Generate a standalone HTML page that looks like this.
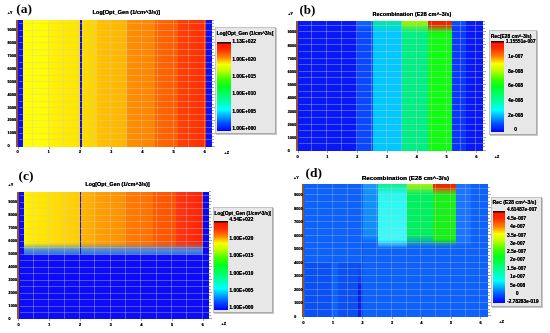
<!DOCTYPE html>
<html><head><meta charset="utf-8"><style>
html,body{margin:0;padding:0;background:#fff;}
body{width:550px;height:333px;position:relative;overflow:hidden;}
#r{position:absolute;left:0;top:0;width:550px;height:333px;filter:blur(0.45px);}
#r div,#r span{position:absolute;}
</style></head><body><div id="r">
<div style="left:16px;top:20px;width:2px;height:127px;background:#94532a;"></div>
<div style="left:18px;top:20px;width:5px;height:127px;background:#1010f4;"></div>
<div style="left:23px;top:20px;width:25px;height:127px;background:linear-gradient(to right,#ffff06,#fffc00);"></div>
<div style="left:48px;top:20px;width:32px;height:127px;background:linear-gradient(to right,#fff400,#ffe400);"></div>
<div style="left:80px;top:20px;width:2px;height:127px;background:#1414d8;"></div>
<div style="left:82px;top:20px;width:15px;height:127px;background:linear-gradient(to right,#ffdc00,#ffd200);"></div>
<div style="left:97px;top:20px;width:30px;height:127px;background:linear-gradient(to right,#ffc200,#ffb400);"></div>
<div style="left:127px;top:20px;width:28px;height:127px;background:linear-gradient(to right,#ff9000,#ff8400);"></div>
<div style="left:155px;top:20px;width:23px;height:127px;background:linear-gradient(to right,#ff6800,#ff5c00);"></div>
<div style="left:178px;top:20px;width:28px;height:127px;background:linear-gradient(to right,#ff4204,#ff2c04);"></div>
<div style="left:206px;top:20px;width:6px;height:127px;background:#1010f0;"></div>
<div style="left:32px;top:20px;width:1px;height:127px;background:rgba(205,205,205,0.36);"></div>
<div style="left:48px;top:20px;width:1px;height:127px;background:rgba(205,205,205,0.36);"></div>
<div style="left:63px;top:20px;width:1px;height:127px;background:rgba(205,205,205,0.36);"></div>
<div style="left:79px;top:20px;width:1px;height:127px;background:rgba(205,205,205,0.36);"></div>
<div style="left:95px;top:20px;width:1px;height:127px;background:rgba(205,205,205,0.36);"></div>
<div style="left:110px;top:20px;width:1px;height:127px;background:rgba(205,205,205,0.36);"></div>
<div style="left:126px;top:20px;width:1px;height:127px;background:rgba(205,205,205,0.36);"></div>
<div style="left:141px;top:20px;width:1px;height:127px;background:rgba(205,205,205,0.36);"></div>
<div style="left:157px;top:20px;width:1px;height:127px;background:rgba(205,205,205,0.36);"></div>
<div style="left:173px;top:20px;width:1px;height:127px;background:rgba(205,205,205,0.36);"></div>
<div style="left:188px;top:20px;width:1px;height:127px;background:rgba(205,205,205,0.36);"></div>
<div style="left:204px;top:20px;width:1px;height:127px;background:rgba(205,205,205,0.36);"></div>
<div style="left:19px;top:139px;width:193px;height:1px;background:rgba(205,205,205,0.36);"></div>
<div style="left:19px;top:133px;width:193px;height:1px;background:rgba(205,205,205,0.36);"></div>
<div style="left:19px;top:127px;width:193px;height:1px;background:rgba(205,205,205,0.36);"></div>
<div style="left:19px;top:120px;width:193px;height:1px;background:rgba(205,205,205,0.36);"></div>
<div style="left:19px;top:114px;width:193px;height:1px;background:rgba(205,205,205,0.36);"></div>
<div style="left:19px;top:107px;width:193px;height:1px;background:rgba(205,205,205,0.36);"></div>
<div style="left:19px;top:101px;width:193px;height:1px;background:rgba(205,205,205,0.36);"></div>
<div style="left:19px;top:94px;width:193px;height:1px;background:rgba(205,205,205,0.36);"></div>
<div style="left:19px;top:88px;width:193px;height:1px;background:rgba(205,205,205,0.36);"></div>
<div style="left:19px;top:81px;width:193px;height:1px;background:rgba(205,205,205,0.36);"></div>
<div style="left:19px;top:75px;width:193px;height:1px;background:rgba(205,205,205,0.36);"></div>
<div style="left:19px;top:68px;width:193px;height:1px;background:rgba(205,205,205,0.36);"></div>
<div style="left:19px;top:62px;width:193px;height:1px;background:rgba(205,205,205,0.36);"></div>
<div style="left:19px;top:55px;width:193px;height:1px;background:rgba(205,205,205,0.36);"></div>
<div style="left:19px;top:49px;width:193px;height:1px;background:rgba(205,205,205,0.36);"></div>
<div style="left:19px;top:42px;width:193px;height:1px;background:rgba(205,205,205,0.36);"></div>
<div style="left:19px;top:36px;width:193px;height:1px;background:rgba(205,205,205,0.36);"></div>
<div style="left:19px;top:30px;width:193px;height:1px;background:rgba(205,205,205,0.36);"></div>
<div style="left:19px;top:23px;width:193px;height:1px;background:rgba(205,205,205,0.36);"></div>
<div style="left:212px;top:146px;width:3px;height:1px;background:rgba(80,80,80,0.5);"></div>
<div style="left:212px;top:142px;width:2px;height:1px;background:rgba(80,80,80,0.5);"></div>
<div style="left:212px;top:139px;width:2px;height:1px;background:rgba(80,80,80,0.5);"></div>
<div style="left:212px;top:136px;width:2px;height:1px;background:rgba(80,80,80,0.5);"></div>
<div style="left:212px;top:133px;width:3px;height:1px;background:rgba(80,80,80,0.5);"></div>
<div style="left:212px;top:129px;width:2px;height:1px;background:rgba(80,80,80,0.5);"></div>
<div style="left:212px;top:126px;width:2px;height:1px;background:rgba(80,80,80,0.5);"></div>
<div style="left:212px;top:123px;width:2px;height:1px;background:rgba(80,80,80,0.5);"></div>
<div style="left:212px;top:120px;width:3px;height:1px;background:rgba(80,80,80,0.5);"></div>
<div style="left:212px;top:117px;width:2px;height:1px;background:rgba(80,80,80,0.5);"></div>
<div style="left:212px;top:113px;width:2px;height:1px;background:rgba(80,80,80,0.5);"></div>
<div style="left:212px;top:110px;width:2px;height:1px;background:rgba(80,80,80,0.5);"></div>
<div style="left:212px;top:107px;width:3px;height:1px;background:rgba(80,80,80,0.5);"></div>
<div style="left:212px;top:104px;width:2px;height:1px;background:rgba(80,80,80,0.5);"></div>
<div style="left:212px;top:100px;width:2px;height:1px;background:rgba(80,80,80,0.5);"></div>
<div style="left:212px;top:97px;width:2px;height:1px;background:rgba(80,80,80,0.5);"></div>
<div style="left:212px;top:94px;width:3px;height:1px;background:rgba(80,80,80,0.5);"></div>
<div style="left:212px;top:91px;width:2px;height:1px;background:rgba(80,80,80,0.5);"></div>
<div style="left:212px;top:87px;width:2px;height:1px;background:rgba(80,80,80,0.5);"></div>
<div style="left:212px;top:84px;width:2px;height:1px;background:rgba(80,80,80,0.5);"></div>
<div style="left:212px;top:81px;width:3px;height:1px;background:rgba(80,80,80,0.5);"></div>
<div style="left:212px;top:78px;width:2px;height:1px;background:rgba(80,80,80,0.5);"></div>
<div style="left:212px;top:74px;width:2px;height:1px;background:rgba(80,80,80,0.5);"></div>
<div style="left:212px;top:71px;width:2px;height:1px;background:rgba(80,80,80,0.5);"></div>
<div style="left:212px;top:68px;width:3px;height:1px;background:rgba(80,80,80,0.5);"></div>
<div style="left:212px;top:65px;width:2px;height:1px;background:rgba(80,80,80,0.5);"></div>
<div style="left:212px;top:62px;width:2px;height:1px;background:rgba(80,80,80,0.5);"></div>
<div style="left:212px;top:58px;width:2px;height:1px;background:rgba(80,80,80,0.5);"></div>
<div style="left:212px;top:55px;width:3px;height:1px;background:rgba(80,80,80,0.5);"></div>
<div style="left:212px;top:52px;width:2px;height:1px;background:rgba(80,80,80,0.5);"></div>
<div style="left:212px;top:49px;width:2px;height:1px;background:rgba(80,80,80,0.5);"></div>
<div style="left:212px;top:45px;width:2px;height:1px;background:rgba(80,80,80,0.5);"></div>
<div style="left:212px;top:42px;width:3px;height:1px;background:rgba(80,80,80,0.5);"></div>
<div style="left:212px;top:39px;width:2px;height:1px;background:rgba(80,80,80,0.5);"></div>
<div style="left:212px;top:36px;width:2px;height:1px;background:rgba(80,80,80,0.5);"></div>
<div style="left:212px;top:32px;width:2px;height:1px;background:rgba(80,80,80,0.5);"></div>
<div style="left:212px;top:29px;width:3px;height:1px;background:rgba(80,80,80,0.5);"></div>
<div style="left:212px;top:26px;width:2px;height:1px;background:rgba(80,80,80,0.5);"></div>
<div style="left:212px;top:23px;width:2px;height:1px;background:rgba(80,80,80,0.5);"></div>
<div style="left:212px;top:20px;width:2px;height:1px;background:rgba(80,80,80,0.5);"></div>
<div style="left:18px;top:147px;width:1px;height:2px;background:rgba(80,80,80,0.5);"></div>
<div style="left:49px;top:147px;width:1px;height:2px;background:rgba(80,80,80,0.5);"></div>
<div style="left:80px;top:147px;width:1px;height:2px;background:rgba(80,80,80,0.5);"></div>
<div style="left:111px;top:147px;width:1px;height:2px;background:rgba(80,80,80,0.5);"></div>
<div style="left:142px;top:147px;width:1px;height:2px;background:rgba(80,80,80,0.5);"></div>
<div style="left:174px;top:147px;width:1px;height:2px;background:rgba(80,80,80,0.5);"></div>
<div style="left:205px;top:147px;width:1px;height:2px;background:rgba(80,80,80,0.5);"></div>
<span style="top:144px;font:bold 3.9px/3.9px 'Liberation Sans', Arial, sans-serif;color:#000;white-space:nowrap;left:7.40px;text-shadow:0.2px 0 0 #000;">0</span>
<span style="top:131px;font:bold 3.9px/3.9px 'Liberation Sans', Arial, sans-serif;color:#000;white-space:nowrap;left:7.40px;text-shadow:0.2px 0 0 #000;">1000</span>
<span style="top:118px;font:bold 3.9px/3.9px 'Liberation Sans', Arial, sans-serif;color:#000;white-space:nowrap;left:7.40px;text-shadow:0.2px 0 0 #000;">2000</span>
<span style="top:106px;font:bold 3.9px/3.9px 'Liberation Sans', Arial, sans-serif;color:#000;white-space:nowrap;left:7.40px;text-shadow:0.2px 0 0 #000;">3000</span>
<span style="top:93px;font:bold 3.9px/3.9px 'Liberation Sans', Arial, sans-serif;color:#000;white-space:nowrap;left:7.40px;text-shadow:0.2px 0 0 #000;">4000</span>
<span style="top:80px;font:bold 3.9px/3.9px 'Liberation Sans', Arial, sans-serif;color:#000;white-space:nowrap;left:7.40px;text-shadow:0.2px 0 0 #000;">5000</span>
<span style="top:67px;font:bold 3.9px/3.9px 'Liberation Sans', Arial, sans-serif;color:#000;white-space:nowrap;left:7.40px;text-shadow:0.2px 0 0 #000;">6000</span>
<span style="top:54px;font:bold 3.9px/3.9px 'Liberation Sans', Arial, sans-serif;color:#000;white-space:nowrap;left:7.40px;text-shadow:0.2px 0 0 #000;">7000</span>
<span style="top:41px;font:bold 3.9px/3.9px 'Liberation Sans', Arial, sans-serif;color:#000;white-space:nowrap;left:7.40px;text-shadow:0.2px 0 0 #000;">8000</span>
<span style="top:28px;font:bold 3.9px/3.9px 'Liberation Sans', Arial, sans-serif;color:#000;white-space:nowrap;left:7.40px;text-shadow:0.2px 0 0 #000;">9000</span>
<span style="top:150px;font:bold 3.9px/3.9px 'Liberation Sans', Arial, sans-serif;color:#000;white-space:nowrap;left:17.50px;transform:translateX(-50%);text-shadow:0.2px 0 0 #000;">0</span>
<span style="top:150px;font:bold 3.9px/3.9px 'Liberation Sans', Arial, sans-serif;color:#000;white-space:nowrap;left:48.70px;transform:translateX(-50%);text-shadow:0.2px 0 0 #000;">1</span>
<span style="top:150px;font:bold 3.9px/3.9px 'Liberation Sans', Arial, sans-serif;color:#000;white-space:nowrap;left:79.90px;transform:translateX(-50%);text-shadow:0.2px 0 0 #000;">2</span>
<span style="top:150px;font:bold 3.9px/3.9px 'Liberation Sans', Arial, sans-serif;color:#000;white-space:nowrap;left:111.10px;transform:translateX(-50%);text-shadow:0.2px 0 0 #000;">3</span>
<span style="top:150px;font:bold 3.9px/3.9px 'Liberation Sans', Arial, sans-serif;color:#000;white-space:nowrap;left:142.30px;transform:translateX(-50%);text-shadow:0.2px 0 0 #000;">4</span>
<span style="top:150px;font:bold 3.9px/3.9px 'Liberation Sans', Arial, sans-serif;color:#000;white-space:nowrap;left:173.50px;transform:translateX(-50%);text-shadow:0.2px 0 0 #000;">5</span>
<span style="top:150px;font:bold 3.9px/3.9px 'Liberation Sans', Arial, sans-serif;color:#000;white-space:nowrap;left:204.70px;transform:translateX(-50%);text-shadow:0.2px 0 0 #000;">6</span>
<span style="top:151px;font:bold 3.9px/3.9px 'Liberation Sans', Arial, sans-serif;color:#000;white-space:nowrap;left:226.70px;transform:translateX(-50%);text-shadow:0.2px 0 0 #000;">+Z</span>
<span style="top:11px;font:bold 3.9px/3.9px 'Liberation Sans', Arial, sans-serif;color:#000;white-space:nowrap;left:10.00px;transform:translateX(-50%);text-shadow:0.2px 0 0 #000;">+Y</span>
<span style="top:2px;font:bold 13.5px/13.5px 'Liberation Serif', 'Times New Roman', serif;color:#000;white-space:nowrap;left:16.20px;">(a)</span>
<span style="top:10px;font:bold 5.7px/5.7px 'Liberation Sans', Arial, sans-serif;color:#000;white-space:nowrap;letter-spacing:-0.01px;left:92.40px;text-shadow:0.12px 0 0 #000;">Log[Opt_Gen (1/cm^3/s)]</span>
<div style="left:215px;top:27px;width:59px;height:105px;background:#e7e7e7;border:1px solid #a9a9a9;border-top-color:#c4c4c4;border-left-color:#c4c4c4;box-shadow:1px 1px 0 #c8c8c8;overflow:hidden"></div>
<div style="left:217px;top:42px;width:14px;height:89px;background:linear-gradient(to bottom,#ff1000 0%,#ff2800 8%,#ff8000 17%,#ffff00 25%,#c0ff00 32%,#40ff00 42%,#00ff20 50%,#00ff90 64%,#00ffff 76%,#00a0ff 84%,#0050ff 91%,#0000ff 100%);"></div>
<div style="left:217px;top:42px;width:14px;height:2px;background:linear-gradient(to bottom,#200604 0%,#401008 50%,#c01808 100%);"></div>
<div style="left:216px;top:28px;width:58px;height:12px;overflow:hidden">
<span style="top:4px;font:bold 4.9px/4.9px 'Liberation Sans', Arial, sans-serif;color:#000;white-space:nowrap;left:0.60px;text-shadow:0.2px 0 0 #000;">Log[Opt_Gen (1/cm^3/s)]</span>
</div>
<span style="top:40px;font:bold 4.85px/4.85px 'Liberation Sans', Arial, sans-serif;color:#000;white-space:nowrap;left:232.30px;text-shadow:0.2px 0 0 #000;">1.13E+022</span>
<span style="top:58px;font:bold 4.85px/4.85px 'Liberation Sans', Arial, sans-serif;color:#000;white-space:nowrap;left:232.30px;text-shadow:0.2px 0 0 #000;">1.00E+020</span>
<span style="top:75px;font:bold 4.85px/4.85px 'Liberation Sans', Arial, sans-serif;color:#000;white-space:nowrap;left:232.30px;text-shadow:0.2px 0 0 #000;">1.00E+015</span>
<span style="top:92px;font:bold 4.85px/4.85px 'Liberation Sans', Arial, sans-serif;color:#000;white-space:nowrap;left:232.30px;text-shadow:0.2px 0 0 #000;">1.00E+010</span>
<span style="top:110px;font:bold 4.85px/4.85px 'Liberation Sans', Arial, sans-serif;color:#000;white-space:nowrap;left:232.30px;text-shadow:0.2px 0 0 #000;">1.00E+005</span>
<span style="top:127px;font:bold 4.85px/4.85px 'Liberation Sans', Arial, sans-serif;color:#000;white-space:nowrap;left:232.30px;text-shadow:0.2px 0 0 #000;">1.00E+000</span>
<div style="left:296px;top:21px;width:2px;height:130px;background:#94532a;"></div>
<div style="left:298px;top:21px;width:59px;height:130px;background:#0818f6;"></div>
<div style="left:357px;top:21px;width:16px;height:130px;background:linear-gradient(to bottom,#0c64ff 0px,#0c60ff 5px,#0a48ff 10px,#0a48ff 100%);"></div>
<div style="left:373px;top:21px;width:29px;height:130px;background:linear-gradient(to bottom,#00e8a8 0px,#00e4b8 4px,#00d4e8 8px,#00c8ff 11px,#00c8ff 100%);"></div>
<div style="left:402px;top:21px;width:26px;height:130px;background:linear-gradient(to bottom,#a0f400 0px,#88f410 3px,#40f048 7px,#10f078 10px,#00ee84 12px,#00ee84 100%);"></div>
<div style="left:428px;top:21px;width:24px;height:130px;background:linear-gradient(to bottom,#f02000 0px,#ec2800 3px,#c05008 5.5px,#909010 7.5px,#40d010 9.5px,#18f010 11.5px,#10fc10 13px,#10fc10 100%);"></div>
<div style="left:452px;top:21px;width:14px;height:130px;background:linear-gradient(to bottom,#0c50ff 0px,#0a3cff 8px,#0a34ff 100%);"></div>
<div style="left:466px;top:21px;width:17px;height:130px;background:#0818f6;"></div>
<div style="left:311px;top:21px;width:1px;height:130px;background:rgba(205,205,205,0.36);"></div>
<div style="left:326px;top:21px;width:1px;height:130px;background:rgba(205,205,205,0.36);"></div>
<div style="left:341px;top:21px;width:1px;height:130px;background:rgba(205,205,205,0.36);"></div>
<div style="left:356px;top:21px;width:1px;height:130px;background:rgba(205,205,205,0.36);"></div>
<div style="left:371px;top:21px;width:1px;height:130px;background:rgba(205,205,205,0.36);"></div>
<div style="left:386px;top:21px;width:1px;height:130px;background:rgba(205,205,205,0.36);"></div>
<div style="left:401px;top:21px;width:1px;height:130px;background:rgba(205,205,205,0.36);"></div>
<div style="left:416px;top:21px;width:1px;height:130px;background:rgba(205,205,205,0.36);"></div>
<div style="left:431px;top:21px;width:1px;height:130px;background:rgba(205,205,205,0.36);"></div>
<div style="left:446px;top:21px;width:1px;height:130px;background:rgba(205,205,205,0.36);"></div>
<div style="left:460px;top:21px;width:1px;height:130px;background:rgba(205,205,205,0.36);"></div>
<div style="left:475px;top:21px;width:1px;height:130px;background:rgba(205,205,205,0.36);"></div>
<div style="left:299px;top:143px;width:184px;height:1px;background:rgba(205,205,205,0.36);"></div>
<div style="left:299px;top:137px;width:184px;height:1px;background:rgba(205,205,205,0.36);"></div>
<div style="left:299px;top:130px;width:184px;height:1px;background:rgba(205,205,205,0.36);"></div>
<div style="left:299px;top:124px;width:184px;height:1px;background:rgba(205,205,205,0.36);"></div>
<div style="left:299px;top:117px;width:184px;height:1px;background:rgba(205,205,205,0.36);"></div>
<div style="left:299px;top:110px;width:184px;height:1px;background:rgba(205,205,205,0.36);"></div>
<div style="left:299px;top:104px;width:184px;height:1px;background:rgba(205,205,205,0.36);"></div>
<div style="left:299px;top:97px;width:184px;height:1px;background:rgba(205,205,205,0.36);"></div>
<div style="left:299px;top:91px;width:184px;height:1px;background:rgba(205,205,205,0.36);"></div>
<div style="left:299px;top:84px;width:184px;height:1px;background:rgba(205,205,205,0.36);"></div>
<div style="left:299px;top:77px;width:184px;height:1px;background:rgba(205,205,205,0.36);"></div>
<div style="left:299px;top:71px;width:184px;height:1px;background:rgba(205,205,205,0.36);"></div>
<div style="left:299px;top:64px;width:184px;height:1px;background:rgba(205,205,205,0.36);"></div>
<div style="left:299px;top:58px;width:184px;height:1px;background:rgba(205,205,205,0.36);"></div>
<div style="left:299px;top:51px;width:184px;height:1px;background:rgba(205,205,205,0.36);"></div>
<div style="left:299px;top:44px;width:184px;height:1px;background:rgba(205,205,205,0.36);"></div>
<div style="left:299px;top:38px;width:184px;height:1px;background:rgba(205,205,205,0.36);"></div>
<div style="left:299px;top:31px;width:184px;height:1px;background:rgba(205,205,205,0.36);"></div>
<div style="left:299px;top:25px;width:184px;height:1px;background:rgba(205,205,205,0.36);"></div>
<div style="left:483px;top:150px;width:3px;height:1px;background:rgba(80,80,80,0.5);"></div>
<div style="left:483px;top:146px;width:2px;height:1px;background:rgba(80,80,80,0.5);"></div>
<div style="left:483px;top:143px;width:2px;height:1px;background:rgba(80,80,80,0.5);"></div>
<div style="left:483px;top:140px;width:2px;height:1px;background:rgba(80,80,80,0.5);"></div>
<div style="left:483px;top:137px;width:3px;height:1px;background:rgba(80,80,80,0.5);"></div>
<div style="left:483px;top:133px;width:2px;height:1px;background:rgba(80,80,80,0.5);"></div>
<div style="left:483px;top:130px;width:2px;height:1px;background:rgba(80,80,80,0.5);"></div>
<div style="left:483px;top:127px;width:2px;height:1px;background:rgba(80,80,80,0.5);"></div>
<div style="left:483px;top:123px;width:3px;height:1px;background:rgba(80,80,80,0.5);"></div>
<div style="left:483px;top:120px;width:2px;height:1px;background:rgba(80,80,80,0.5);"></div>
<div style="left:483px;top:117px;width:2px;height:1px;background:rgba(80,80,80,0.5);"></div>
<div style="left:483px;top:113px;width:2px;height:1px;background:rgba(80,80,80,0.5);"></div>
<div style="left:483px;top:110px;width:3px;height:1px;background:rgba(80,80,80,0.5);"></div>
<div style="left:483px;top:107px;width:2px;height:1px;background:rgba(80,80,80,0.5);"></div>
<div style="left:483px;top:104px;width:2px;height:1px;background:rgba(80,80,80,0.5);"></div>
<div style="left:483px;top:100px;width:2px;height:1px;background:rgba(80,80,80,0.5);"></div>
<div style="left:483px;top:97px;width:3px;height:1px;background:rgba(80,80,80,0.5);"></div>
<div style="left:483px;top:94px;width:2px;height:1px;background:rgba(80,80,80,0.5);"></div>
<div style="left:483px;top:90px;width:2px;height:1px;background:rgba(80,80,80,0.5);"></div>
<div style="left:483px;top:87px;width:2px;height:1px;background:rgba(80,80,80,0.5);"></div>
<div style="left:483px;top:84px;width:3px;height:1px;background:rgba(80,80,80,0.5);"></div>
<div style="left:483px;top:80px;width:2px;height:1px;background:rgba(80,80,80,0.5);"></div>
<div style="left:483px;top:77px;width:2px;height:1px;background:rgba(80,80,80,0.5);"></div>
<div style="left:483px;top:74px;width:2px;height:1px;background:rgba(80,80,80,0.5);"></div>
<div style="left:483px;top:71px;width:3px;height:1px;background:rgba(80,80,80,0.5);"></div>
<div style="left:483px;top:67px;width:2px;height:1px;background:rgba(80,80,80,0.5);"></div>
<div style="left:483px;top:64px;width:2px;height:1px;background:rgba(80,80,80,0.5);"></div>
<div style="left:483px;top:61px;width:2px;height:1px;background:rgba(80,80,80,0.5);"></div>
<div style="left:483px;top:57px;width:3px;height:1px;background:rgba(80,80,80,0.5);"></div>
<div style="left:483px;top:54px;width:2px;height:1px;background:rgba(80,80,80,0.5);"></div>
<div style="left:483px;top:51px;width:2px;height:1px;background:rgba(80,80,80,0.5);"></div>
<div style="left:483px;top:47px;width:2px;height:1px;background:rgba(80,80,80,0.5);"></div>
<div style="left:483px;top:44px;width:3px;height:1px;background:rgba(80,80,80,0.5);"></div>
<div style="left:483px;top:41px;width:2px;height:1px;background:rgba(80,80,80,0.5);"></div>
<div style="left:483px;top:38px;width:2px;height:1px;background:rgba(80,80,80,0.5);"></div>
<div style="left:483px;top:34px;width:2px;height:1px;background:rgba(80,80,80,0.5);"></div>
<div style="left:483px;top:31px;width:3px;height:1px;background:rgba(80,80,80,0.5);"></div>
<div style="left:483px;top:28px;width:2px;height:1px;background:rgba(80,80,80,0.5);"></div>
<div style="left:483px;top:24px;width:2px;height:1px;background:rgba(80,80,80,0.5);"></div>
<div style="left:483px;top:21px;width:2px;height:1px;background:rgba(80,80,80,0.5);"></div>
<div style="left:298px;top:151px;width:1px;height:2px;background:rgba(80,80,80,0.5);"></div>
<div style="left:327px;top:151px;width:1px;height:2px;background:rgba(80,80,80,0.5);"></div>
<div style="left:357px;top:151px;width:1px;height:2px;background:rgba(80,80,80,0.5);"></div>
<div style="left:387px;top:151px;width:1px;height:2px;background:rgba(80,80,80,0.5);"></div>
<div style="left:417px;top:151px;width:1px;height:2px;background:rgba(80,80,80,0.5);"></div>
<div style="left:446px;top:151px;width:1px;height:2px;background:rgba(80,80,80,0.5);"></div>
<div style="left:476px;top:151px;width:1px;height:2px;background:rgba(80,80,80,0.5);"></div>
<span style="top:149px;font:bold 3.9px/3.9px 'Liberation Sans', Arial, sans-serif;color:#000;white-space:nowrap;left:287.50px;text-shadow:0.2px 0 0 #000;">0</span>
<span style="top:136px;font:bold 3.9px/3.9px 'Liberation Sans', Arial, sans-serif;color:#000;white-space:nowrap;left:287.50px;text-shadow:0.2px 0 0 #000;">1000</span>
<span style="top:123px;font:bold 3.9px/3.9px 'Liberation Sans', Arial, sans-serif;color:#000;white-space:nowrap;left:287.50px;text-shadow:0.2px 0 0 #000;">2000</span>
<span style="top:110px;font:bold 3.9px/3.9px 'Liberation Sans', Arial, sans-serif;color:#000;white-space:nowrap;left:287.50px;text-shadow:0.2px 0 0 #000;">3000</span>
<span style="top:96px;font:bold 3.9px/3.9px 'Liberation Sans', Arial, sans-serif;color:#000;white-space:nowrap;left:287.50px;text-shadow:0.2px 0 0 #000;">4000</span>
<span style="top:83px;font:bold 3.9px/3.9px 'Liberation Sans', Arial, sans-serif;color:#000;white-space:nowrap;left:287.50px;text-shadow:0.2px 0 0 #000;">5000</span>
<span style="top:70px;font:bold 3.9px/3.9px 'Liberation Sans', Arial, sans-serif;color:#000;white-space:nowrap;left:287.50px;text-shadow:0.2px 0 0 #000;">6000</span>
<span style="top:57px;font:bold 3.9px/3.9px 'Liberation Sans', Arial, sans-serif;color:#000;white-space:nowrap;left:287.50px;text-shadow:0.2px 0 0 #000;">7000</span>
<span style="top:44px;font:bold 3.9px/3.9px 'Liberation Sans', Arial, sans-serif;color:#000;white-space:nowrap;left:287.50px;text-shadow:0.2px 0 0 #000;">8000</span>
<span style="top:30px;font:bold 3.9px/3.9px 'Liberation Sans', Arial, sans-serif;color:#000;white-space:nowrap;left:287.50px;text-shadow:0.2px 0 0 #000;">9000</span>
<span style="top:155px;font:bold 3.9px/3.9px 'Liberation Sans', Arial, sans-serif;color:#000;white-space:nowrap;left:297.50px;transform:translateX(-50%);text-shadow:0.2px 0 0 #000;">0</span>
<span style="top:155px;font:bold 3.9px/3.9px 'Liberation Sans', Arial, sans-serif;color:#000;white-space:nowrap;left:327.30px;transform:translateX(-50%);text-shadow:0.2px 0 0 #000;">1</span>
<span style="top:155px;font:bold 3.9px/3.9px 'Liberation Sans', Arial, sans-serif;color:#000;white-space:nowrap;left:357.10px;transform:translateX(-50%);text-shadow:0.2px 0 0 #000;">2</span>
<span style="top:155px;font:bold 3.9px/3.9px 'Liberation Sans', Arial, sans-serif;color:#000;white-space:nowrap;left:386.90px;transform:translateX(-50%);text-shadow:0.2px 0 0 #000;">3</span>
<span style="top:155px;font:bold 3.9px/3.9px 'Liberation Sans', Arial, sans-serif;color:#000;white-space:nowrap;left:416.70px;transform:translateX(-50%);text-shadow:0.2px 0 0 #000;">4</span>
<span style="top:155px;font:bold 3.9px/3.9px 'Liberation Sans', Arial, sans-serif;color:#000;white-space:nowrap;left:446.50px;transform:translateX(-50%);text-shadow:0.2px 0 0 #000;">5</span>
<span style="top:155px;font:bold 3.9px/3.9px 'Liberation Sans', Arial, sans-serif;color:#000;white-space:nowrap;left:476.30px;transform:translateX(-50%);text-shadow:0.2px 0 0 #000;">6</span>
<span style="top:155px;font:bold 3.9px/3.9px 'Liberation Sans', Arial, sans-serif;color:#000;white-space:nowrap;left:496.80px;transform:translateX(-50%);text-shadow:0.2px 0 0 #000;">+Z</span>
<span style="top:12px;font:bold 3.9px/3.9px 'Liberation Sans', Arial, sans-serif;color:#000;white-space:nowrap;left:290.50px;transform:translateX(-50%);text-shadow:0.2px 0 0 #000;">+Y</span>
<span style="top:3px;font:bold 13.0px/13.0px 'Liberation Serif', 'Times New Roman', serif;color:#000;white-space:nowrap;left:299.40px;">(b)</span>
<span style="top:12px;font:bold 5.6px/5.6px 'Liberation Sans', Arial, sans-serif;color:#000;white-space:nowrap;letter-spacing:0.03px;left:372.40px;text-shadow:0.12px 0 0 #000;">Recombination (E28 cm^-3/s)</span>
<div style="left:489px;top:30px;width:46px;height:103px;background:#e7e7e7;border:1px solid #a9a9a9;border-top-color:#c4c4c4;border-left-color:#c4c4c4;box-shadow:1px 1px 0 #c8c8c8;overflow:hidden"></div>
<div style="left:491px;top:41px;width:13px;height:91px;background:linear-gradient(to bottom,#ff1000 0%,#ff2800 8%,#ff8000 17%,#ffff00 25%,#c0ff00 32%,#40ff00 42%,#00ff20 50%,#00ff90 64%,#00ffff 76%,#00a0ff 84%,#0050ff 91%,#0000ff 100%);"></div>
<div style="left:491px;top:41px;width:13px;height:2px;background:linear-gradient(to bottom,#200604 0%,#401008 50%,#c01808 100%);"></div>
<div style="left:490px;top:31px;width:45px;height:12px;overflow:hidden">
<span style="top:4px;font:bold 4.9px/4.9px 'Liberation Sans', Arial, sans-serif;color:#000;white-space:nowrap;left:0.80px;text-shadow:0.2px 0 0 #000;">Rec(E28 cm^-3/s)</span>
</div>
<span style="top:40px;font:bold 4.8px/4.8px 'Liberation Sans', Arial, sans-serif;color:#000;white-space:nowrap;left:505.80px;text-shadow:0.2px 0 0 #000;">1.15551e-007</span>
<span style="top:55px;font:bold 4.8px/4.8px 'Liberation Sans', Arial, sans-serif;color:#000;white-space:nowrap;left:515.50px;transform:translateX(-50%);text-shadow:0.2px 0 0 #000;">1e-007</span>
<span style="top:70px;font:bold 4.8px/4.8px 'Liberation Sans', Arial, sans-serif;color:#000;white-space:nowrap;left:515.50px;transform:translateX(-50%);text-shadow:0.2px 0 0 #000;">8e-008</span>
<span style="top:84px;font:bold 4.8px/4.8px 'Liberation Sans', Arial, sans-serif;color:#000;white-space:nowrap;left:515.50px;transform:translateX(-50%);text-shadow:0.2px 0 0 #000;">6e-008</span>
<span style="top:99px;font:bold 4.8px/4.8px 'Liberation Sans', Arial, sans-serif;color:#000;white-space:nowrap;left:515.50px;transform:translateX(-50%);text-shadow:0.2px 0 0 #000;">4e-008</span>
<span style="top:114px;font:bold 4.8px/4.8px 'Liberation Sans', Arial, sans-serif;color:#000;white-space:nowrap;left:515.50px;transform:translateX(-50%);text-shadow:0.2px 0 0 #000;">2e-008</span>
<span style="top:128px;font:bold 4.8px/4.8px 'Liberation Sans', Arial, sans-serif;color:#000;white-space:nowrap;left:515.50px;transform:translateX(-50%);text-shadow:0.2px 0 0 #000;">0</span>
<div style="left:17px;top:192px;width:2px;height:127px;background:#94532a;"></div>
<div style="left:19px;top:192px;width:190px;height:127px;background:#0c0cf8;"></div>
<div style="left:24px;top:192px;width:3px;height:63px;background:linear-gradient(to right,#fffa00,#fff200);"></div>
<div style="left:27px;top:192px;width:25px;height:63px;background:linear-gradient(to right,#fff000,#ffe000);"></div>
<div style="left:52px;top:192px;width:29px;height:63px;background:linear-gradient(to right,#ffdf00,#ffcb00);"></div>
<div style="left:81px;top:192px;width:15px;height:63px;background:linear-gradient(to right,#ffb400,#ffaa00);"></div>
<div style="left:96px;top:192px;width:29px;height:63px;background:linear-gradient(to right,#ffa000,#ff9000);"></div>
<div style="left:125px;top:192px;width:28px;height:63px;background:linear-gradient(to right,#ff7c00,#ff7000);"></div>
<div style="left:153px;top:192px;width:23px;height:63px;background:linear-gradient(to right,#ff5c00,#ff5200);"></div>
<div style="left:176px;top:192px;width:27px;height:63px;background:linear-gradient(to right,#ff3810,#ff2208);"></div>
<div style="left:24px;top:242px;width:179px;height:13px;background:linear-gradient(to bottom,rgba(74,136,224,0) 0px,rgba(74,136,224,0) 1.0px,rgba(74,136,224,1) 8.5px,#3a7ae8 11.0px,#2050f0 12.5px,#0c0cf8 13.5px);"></div>
<div style="left:79.7px;top:192px;width:1.8px;height:63px;background:#1414d8;"></div>
<div style="left:203px;top:192px;width:6px;height:127px;background:#0a0af0;"></div>
<div style="left:33px;top:192px;width:1px;height:127px;background:rgba(205,205,205,0.36);"></div>
<div style="left:48px;top:192px;width:1px;height:127px;background:rgba(205,205,205,0.36);"></div>
<div style="left:64px;top:192px;width:1px;height:127px;background:rgba(205,205,205,0.36);"></div>
<div style="left:79px;top:192px;width:1px;height:127px;background:rgba(205,205,205,0.36);"></div>
<div style="left:94px;top:192px;width:1px;height:127px;background:rgba(205,205,205,0.36);"></div>
<div style="left:110px;top:192px;width:1px;height:127px;background:rgba(205,205,205,0.36);"></div>
<div style="left:125px;top:192px;width:1px;height:127px;background:rgba(205,205,205,0.36);"></div>
<div style="left:140px;top:192px;width:1px;height:127px;background:rgba(205,205,205,0.36);"></div>
<div style="left:156px;top:192px;width:1px;height:127px;background:rgba(205,205,205,0.36);"></div>
<div style="left:171px;top:192px;width:1px;height:127px;background:rgba(205,205,205,0.36);"></div>
<div style="left:186px;top:192px;width:1px;height:127px;background:rgba(205,205,205,0.36);"></div>
<div style="left:202px;top:192px;width:1px;height:127px;background:rgba(205,205,205,0.36);"></div>
<div style="left:20px;top:312px;width:189px;height:1px;background:rgba(205,205,205,0.36);"></div>
<div style="left:20px;top:306px;width:189px;height:1px;background:rgba(205,205,205,0.36);"></div>
<div style="left:20px;top:299px;width:189px;height:1px;background:rgba(205,205,205,0.36);"></div>
<div style="left:20px;top:293px;width:189px;height:1px;background:rgba(205,205,205,0.36);"></div>
<div style="left:20px;top:286px;width:189px;height:1px;background:rgba(205,205,205,0.36);"></div>
<div style="left:20px;top:280px;width:189px;height:1px;background:rgba(205,205,205,0.36);"></div>
<div style="left:20px;top:273px;width:189px;height:1px;background:rgba(205,205,205,0.36);"></div>
<div style="left:20px;top:267px;width:189px;height:1px;background:rgba(205,205,205,0.36);"></div>
<div style="left:20px;top:260px;width:189px;height:1px;background:rgba(205,205,205,0.36);"></div>
<div style="left:20px;top:254px;width:189px;height:1px;background:rgba(205,205,205,0.36);"></div>
<div style="left:20px;top:247px;width:189px;height:1px;background:rgba(205,205,205,0.36);"></div>
<div style="left:20px;top:241px;width:189px;height:1px;background:rgba(205,205,205,0.36);"></div>
<div style="left:20px;top:234px;width:189px;height:1px;background:rgba(205,205,205,0.36);"></div>
<div style="left:20px;top:228px;width:189px;height:1px;background:rgba(205,205,205,0.36);"></div>
<div style="left:20px;top:221px;width:189px;height:1px;background:rgba(205,205,205,0.36);"></div>
<div style="left:20px;top:215px;width:189px;height:1px;background:rgba(205,205,205,0.36);"></div>
<div style="left:20px;top:208px;width:189px;height:1px;background:rgba(205,205,205,0.36);"></div>
<div style="left:20px;top:202px;width:189px;height:1px;background:rgba(205,205,205,0.36);"></div>
<div style="left:20px;top:195px;width:189px;height:1px;background:rgba(205,205,205,0.36);"></div>
<div style="left:209px;top:318px;width:3px;height:1px;background:rgba(80,80,80,0.5);"></div>
<div style="left:209px;top:315px;width:2px;height:1px;background:rgba(80,80,80,0.5);"></div>
<div style="left:209px;top:312px;width:2px;height:1px;background:rgba(80,80,80,0.5);"></div>
<div style="left:209px;top:308px;width:2px;height:1px;background:rgba(80,80,80,0.5);"></div>
<div style="left:209px;top:305px;width:3px;height:1px;background:rgba(80,80,80,0.5);"></div>
<div style="left:209px;top:302px;width:2px;height:1px;background:rgba(80,80,80,0.5);"></div>
<div style="left:209px;top:299px;width:2px;height:1px;background:rgba(80,80,80,0.5);"></div>
<div style="left:209px;top:295px;width:2px;height:1px;background:rgba(80,80,80,0.5);"></div>
<div style="left:209px;top:292px;width:3px;height:1px;background:rgba(80,80,80,0.5);"></div>
<div style="left:209px;top:289px;width:2px;height:1px;background:rgba(80,80,80,0.5);"></div>
<div style="left:209px;top:286px;width:2px;height:1px;background:rgba(80,80,80,0.5);"></div>
<div style="left:209px;top:282px;width:2px;height:1px;background:rgba(80,80,80,0.5);"></div>
<div style="left:209px;top:279px;width:3px;height:1px;background:rgba(80,80,80,0.5);"></div>
<div style="left:209px;top:276px;width:2px;height:1px;background:rgba(80,80,80,0.5);"></div>
<div style="left:209px;top:273px;width:2px;height:1px;background:rgba(80,80,80,0.5);"></div>
<div style="left:209px;top:269px;width:2px;height:1px;background:rgba(80,80,80,0.5);"></div>
<div style="left:209px;top:266px;width:3px;height:1px;background:rgba(80,80,80,0.5);"></div>
<div style="left:209px;top:263px;width:2px;height:1px;background:rgba(80,80,80,0.5);"></div>
<div style="left:209px;top:260px;width:2px;height:1px;background:rgba(80,80,80,0.5);"></div>
<div style="left:209px;top:256px;width:2px;height:1px;background:rgba(80,80,80,0.5);"></div>
<div style="left:209px;top:253px;width:3px;height:1px;background:rgba(80,80,80,0.5);"></div>
<div style="left:209px;top:250px;width:2px;height:1px;background:rgba(80,80,80,0.5);"></div>
<div style="left:209px;top:247px;width:2px;height:1px;background:rgba(80,80,80,0.5);"></div>
<div style="left:209px;top:243px;width:2px;height:1px;background:rgba(80,80,80,0.5);"></div>
<div style="left:209px;top:240px;width:3px;height:1px;background:rgba(80,80,80,0.5);"></div>
<div style="left:209px;top:237px;width:2px;height:1px;background:rgba(80,80,80,0.5);"></div>
<div style="left:209px;top:234px;width:2px;height:1px;background:rgba(80,80,80,0.5);"></div>
<div style="left:209px;top:230px;width:2px;height:1px;background:rgba(80,80,80,0.5);"></div>
<div style="left:209px;top:227px;width:3px;height:1px;background:rgba(80,80,80,0.5);"></div>
<div style="left:209px;top:224px;width:2px;height:1px;background:rgba(80,80,80,0.5);"></div>
<div style="left:209px;top:221px;width:2px;height:1px;background:rgba(80,80,80,0.5);"></div>
<div style="left:209px;top:217px;width:2px;height:1px;background:rgba(80,80,80,0.5);"></div>
<div style="left:209px;top:214px;width:3px;height:1px;background:rgba(80,80,80,0.5);"></div>
<div style="left:209px;top:211px;width:2px;height:1px;background:rgba(80,80,80,0.5);"></div>
<div style="left:209px;top:208px;width:2px;height:1px;background:rgba(80,80,80,0.5);"></div>
<div style="left:209px;top:204px;width:2px;height:1px;background:rgba(80,80,80,0.5);"></div>
<div style="left:209px;top:201px;width:3px;height:1px;background:rgba(80,80,80,0.5);"></div>
<div style="left:209px;top:198px;width:2px;height:1px;background:rgba(80,80,80,0.5);"></div>
<div style="left:209px;top:195px;width:2px;height:1px;background:rgba(80,80,80,0.5);"></div>
<div style="left:209px;top:191px;width:2px;height:1px;background:rgba(80,80,80,0.5);"></div>
<div style="left:18px;top:319px;width:1px;height:2px;background:rgba(80,80,80,0.5);"></div>
<div style="left:49px;top:319px;width:1px;height:2px;background:rgba(80,80,80,0.5);"></div>
<div style="left:80px;top:319px;width:1px;height:2px;background:rgba(80,80,80,0.5);"></div>
<div style="left:111px;top:319px;width:1px;height:2px;background:rgba(80,80,80,0.5);"></div>
<div style="left:141px;top:319px;width:1px;height:2px;background:rgba(80,80,80,0.5);"></div>
<div style="left:172px;top:319px;width:1px;height:2px;background:rgba(80,80,80,0.5);"></div>
<div style="left:203px;top:319px;width:1px;height:2px;background:rgba(80,80,80,0.5);"></div>
<span style="top:317px;font:bold 3.9px/3.9px 'Liberation Sans', Arial, sans-serif;color:#000;white-space:nowrap;left:8.30px;text-shadow:0.2px 0 0 #000;">0</span>
<span style="top:304px;font:bold 3.9px/3.9px 'Liberation Sans', Arial, sans-serif;color:#000;white-space:nowrap;left:8.30px;text-shadow:0.2px 0 0 #000;">1000</span>
<span style="top:291px;font:bold 3.9px/3.9px 'Liberation Sans', Arial, sans-serif;color:#000;white-space:nowrap;left:8.30px;text-shadow:0.2px 0 0 #000;">2000</span>
<span style="top:278px;font:bold 3.9px/3.9px 'Liberation Sans', Arial, sans-serif;color:#000;white-space:nowrap;left:8.30px;text-shadow:0.2px 0 0 #000;">3000</span>
<span style="top:265px;font:bold 3.9px/3.9px 'Liberation Sans', Arial, sans-serif;color:#000;white-space:nowrap;left:8.30px;text-shadow:0.2px 0 0 #000;">4000</span>
<span style="top:252px;font:bold 3.9px/3.9px 'Liberation Sans', Arial, sans-serif;color:#000;white-space:nowrap;left:8.30px;text-shadow:0.2px 0 0 #000;">5000</span>
<span style="top:239px;font:bold 3.9px/3.9px 'Liberation Sans', Arial, sans-serif;color:#000;white-space:nowrap;left:8.30px;text-shadow:0.2px 0 0 #000;">6000</span>
<span style="top:226px;font:bold 3.9px/3.9px 'Liberation Sans', Arial, sans-serif;color:#000;white-space:nowrap;left:8.30px;text-shadow:0.2px 0 0 #000;">7000</span>
<span style="top:213px;font:bold 3.9px/3.9px 'Liberation Sans', Arial, sans-serif;color:#000;white-space:nowrap;left:8.30px;text-shadow:0.2px 0 0 #000;">8000</span>
<span style="top:200px;font:bold 3.9px/3.9px 'Liberation Sans', Arial, sans-serif;color:#000;white-space:nowrap;left:8.30px;text-shadow:0.2px 0 0 #000;">9000</span>
<span style="top:323px;font:bold 3.9px/3.9px 'Liberation Sans', Arial, sans-serif;color:#000;white-space:nowrap;left:18.50px;transform:translateX(-50%);text-shadow:0.2px 0 0 #000;">0</span>
<span style="top:323px;font:bold 3.9px/3.9px 'Liberation Sans', Arial, sans-serif;color:#000;white-space:nowrap;left:49.20px;transform:translateX(-50%);text-shadow:0.2px 0 0 #000;">1</span>
<span style="top:323px;font:bold 3.9px/3.9px 'Liberation Sans', Arial, sans-serif;color:#000;white-space:nowrap;left:79.90px;transform:translateX(-50%);text-shadow:0.2px 0 0 #000;">2</span>
<span style="top:323px;font:bold 3.9px/3.9px 'Liberation Sans', Arial, sans-serif;color:#000;white-space:nowrap;left:110.60px;transform:translateX(-50%);text-shadow:0.2px 0 0 #000;">3</span>
<span style="top:323px;font:bold 3.9px/3.9px 'Liberation Sans', Arial, sans-serif;color:#000;white-space:nowrap;left:141.30px;transform:translateX(-50%);text-shadow:0.2px 0 0 #000;">4</span>
<span style="top:323px;font:bold 3.9px/3.9px 'Liberation Sans', Arial, sans-serif;color:#000;white-space:nowrap;left:172.00px;transform:translateX(-50%);text-shadow:0.2px 0 0 #000;">5</span>
<span style="top:323px;font:bold 3.9px/3.9px 'Liberation Sans', Arial, sans-serif;color:#000;white-space:nowrap;left:202.70px;transform:translateX(-50%);text-shadow:0.2px 0 0 #000;">6</span>
<span style="top:322px;font:bold 3.9px/3.9px 'Liberation Sans', Arial, sans-serif;color:#000;white-space:nowrap;left:223.70px;transform:translateX(-50%);text-shadow:0.2px 0 0 #000;">+Z</span>
<span style="top:183px;font:bold 3.9px/3.9px 'Liberation Sans', Arial, sans-serif;color:#000;white-space:nowrap;left:10.80px;transform:translateX(-50%);text-shadow:0.2px 0 0 #000;">+Y</span>
<span style="top:169px;font:bold 13.5px/13.5px 'Liberation Serif', 'Times New Roman', serif;color:#000;white-space:nowrap;left:18.60px;">(c)</span>
<span style="top:182px;font:bold 5.45px/5.45px 'Liberation Sans', Arial, sans-serif;color:#000;white-space:nowrap;letter-spacing:-0.02px;left:85.30px;text-shadow:0.12px 0 0 #000;">Log[Opt_Gen (1/cm^3/s)]</span>
<div style="left:213px;top:207px;width:58px;height:104px;background:#e7e7e7;border:1px solid #a9a9a9;border-top-color:#c4c4c4;border-left-color:#c4c4c4;box-shadow:1px 1px 0 #c8c8c8;overflow:hidden"></div>
<div style="left:214px;top:221px;width:14px;height:89px;background:linear-gradient(to bottom,#ff1000 0%,#ff2800 8%,#ff8000 17%,#ffff00 25%,#c0ff00 32%,#40ff00 42%,#00ff20 50%,#00ff90 64%,#00ffff 76%,#00a0ff 84%,#0050ff 91%,#0000ff 100%);"></div>
<div style="left:214px;top:221px;width:14px;height:2px;background:linear-gradient(to bottom,#200604 0%,#401008 50%,#c01808 100%);"></div>
<div style="left:214px;top:208px;width:57px;height:12px;overflow:hidden">
<span style="top:4px;font:bold 4.8px/4.8px 'Liberation Sans', Arial, sans-serif;color:#000;white-space:nowrap;left:0.30px;text-shadow:0.2px 0 0 #000;">Log[Opt_Gen (1/cm^3/s)]</span>
</div>
<span style="top:218px;font:bold 4.95px/4.95px 'Liberation Sans', Arial, sans-serif;color:#000;white-space:nowrap;left:229.30px;text-shadow:0.2px 0 0 #000;">4.54E+022</span>
<span style="top:237px;font:bold 4.95px/4.95px 'Liberation Sans', Arial, sans-serif;color:#000;white-space:nowrap;left:229.30px;text-shadow:0.2px 0 0 #000;">1.00E+020</span>
<span style="top:254px;font:bold 4.95px/4.95px 'Liberation Sans', Arial, sans-serif;color:#000;white-space:nowrap;left:229.30px;text-shadow:0.2px 0 0 #000;">1.00E+015</span>
<span style="top:272px;font:bold 4.95px/4.95px 'Liberation Sans', Arial, sans-serif;color:#000;white-space:nowrap;left:229.30px;text-shadow:0.2px 0 0 #000;">1.00E+010</span>
<span style="top:289px;font:bold 4.95px/4.95px 'Liberation Sans', Arial, sans-serif;color:#000;white-space:nowrap;left:229.30px;text-shadow:0.2px 0 0 #000;">1.00E+005</span>
<span style="top:306px;font:bold 4.95px/4.95px 'Liberation Sans', Arial, sans-serif;color:#000;white-space:nowrap;left:229.30px;text-shadow:0.2px 0 0 #000;">1.00E+000</span>
<div style="left:302px;top:184px;width:2px;height:133px;background:#94532a;"></div>
<div style="left:304px;top:184px;width:184px;height:133px;background:#0c62fb;"></div>
<div style="left:305px;top:263px;width:26px;height:54px;background:#0a50f2;"></div>
<div style="left:338px;top:263px;width:20px;height:54px;background:#0a50f2;"></div>
<div style="left:358px;top:263px;width:4px;height:54px;background:linear-gradient(to bottom,#0a50f2,#0840ec 30%,#0620e4 45%,#0620e4);"></div>
<div style="left:362px;top:242px;width:1px;height:75px;background:rgba(8,40,220,0.3);"></div>
<div style="left:363px;top:184px;width:15px;height:64px;background:linear-gradient(to bottom,#1a9cfa 0px,#148ef8 10px,#128cf8 51.7px,#0c62fb 58.7px);"></div>
<div style="left:378px;top:184px;width:29px;height:64px;background:linear-gradient(to bottom,#10f088 0px,#18f4c8 6px,#28f8f0 10px,#40f8f8 55.7px,#30b0f8 60.7px,#0c62fb 64.2px);"></div>
<div style="left:407px;top:184px;width:26px;height:64px;background:linear-gradient(to bottom,#b0f000 0px,#60f030 5px,#00f060 10px,#00f060 51px,#10a8b0 58px,#0c62fb 63.4px);"></div>
<div style="left:433px;top:184px;width:23px;height:64px;background:linear-gradient(to bottom,#f02400 0px,#e83000 3.5px,#989010 6.5px,#30e010 10px,#18f018 12px,#18f018 55px,#1890a0 60px,#0c62fb 63.4px);"></div>
<div style="left:456px;top:184px;width:15px;height:64px;background:linear-gradient(to bottom,#1a74ff 0px,#1a74ff 58px,#0c62fb 63.4px);"></div>
<div style="left:317px;top:184px;width:1px;height:133px;background:rgba(205,205,205,0.3);"></div>
<div style="left:332px;top:184px;width:1px;height:133px;background:rgba(205,205,205,0.3);"></div>
<div style="left:347px;top:184px;width:1px;height:133px;background:rgba(205,205,205,0.3);"></div>
<div style="left:361px;top:184px;width:1px;height:133px;background:rgba(205,205,205,0.3);"></div>
<div style="left:376px;top:184px;width:1px;height:133px;background:rgba(205,205,205,0.3);"></div>
<div style="left:391px;top:184px;width:1px;height:133px;background:rgba(205,205,205,0.3);"></div>
<div style="left:406px;top:184px;width:1px;height:133px;background:rgba(205,205,205,0.3);"></div>
<div style="left:420px;top:184px;width:1px;height:133px;background:rgba(205,205,205,0.3);"></div>
<div style="left:435px;top:184px;width:1px;height:133px;background:rgba(205,205,205,0.3);"></div>
<div style="left:450px;top:184px;width:1px;height:133px;background:rgba(205,205,205,0.3);"></div>
<div style="left:465px;top:184px;width:1px;height:133px;background:rgba(205,205,205,0.3);"></div>
<div style="left:479px;top:184px;width:1px;height:133px;background:rgba(205,205,205,0.3);"></div>
<div style="left:305px;top:309px;width:183px;height:1px;background:rgba(205,205,205,0.3);"></div>
<div style="left:305px;top:302px;width:183px;height:1px;background:rgba(205,205,205,0.3);"></div>
<div style="left:305px;top:295px;width:183px;height:1px;background:rgba(205,205,205,0.3);"></div>
<div style="left:305px;top:289px;width:183px;height:1px;background:rgba(205,205,205,0.3);"></div>
<div style="left:305px;top:282px;width:183px;height:1px;background:rgba(205,205,205,0.3);"></div>
<div style="left:305px;top:275px;width:183px;height:1px;background:rgba(205,205,205,0.3);"></div>
<div style="left:305px;top:268px;width:183px;height:1px;background:rgba(205,205,205,0.3);"></div>
<div style="left:305px;top:262px;width:183px;height:1px;background:rgba(205,205,205,0.3);"></div>
<div style="left:305px;top:255px;width:183px;height:1px;background:rgba(205,205,205,0.3);"></div>
<div style="left:305px;top:248px;width:183px;height:1px;background:rgba(205,205,205,0.3);"></div>
<div style="left:305px;top:242px;width:183px;height:1px;background:rgba(205,205,205,0.3);"></div>
<div style="left:305px;top:235px;width:183px;height:1px;background:rgba(205,205,205,0.3);"></div>
<div style="left:305px;top:228px;width:183px;height:1px;background:rgba(205,205,205,0.3);"></div>
<div style="left:305px;top:221px;width:183px;height:1px;background:rgba(205,205,205,0.3);"></div>
<div style="left:305px;top:215px;width:183px;height:1px;background:rgba(205,205,205,0.3);"></div>
<div style="left:305px;top:208px;width:183px;height:1px;background:rgba(205,205,205,0.3);"></div>
<div style="left:305px;top:201px;width:183px;height:1px;background:rgba(205,205,205,0.3);"></div>
<div style="left:305px;top:194px;width:183px;height:1px;background:rgba(205,205,205,0.3);"></div>
<div style="left:305px;top:188px;width:183px;height:1px;background:rgba(205,205,205,0.3);"></div>
<div style="left:488px;top:315px;width:3px;height:1px;background:rgba(80,80,80,0.5);"></div>
<div style="left:488px;top:312px;width:2px;height:1px;background:rgba(80,80,80,0.5);"></div>
<div style="left:488px;top:309px;width:2px;height:1px;background:rgba(80,80,80,0.5);"></div>
<div style="left:488px;top:305px;width:2px;height:1px;background:rgba(80,80,80,0.5);"></div>
<div style="left:488px;top:302px;width:3px;height:1px;background:rgba(80,80,80,0.5);"></div>
<div style="left:488px;top:299px;width:2px;height:1px;background:rgba(80,80,80,0.5);"></div>
<div style="left:488px;top:295px;width:2px;height:1px;background:rgba(80,80,80,0.5);"></div>
<div style="left:488px;top:292px;width:2px;height:1px;background:rgba(80,80,80,0.5);"></div>
<div style="left:488px;top:288px;width:3px;height:1px;background:rgba(80,80,80,0.5);"></div>
<div style="left:488px;top:285px;width:2px;height:1px;background:rgba(80,80,80,0.5);"></div>
<div style="left:488px;top:282px;width:2px;height:1px;background:rgba(80,80,80,0.5);"></div>
<div style="left:488px;top:278px;width:2px;height:1px;background:rgba(80,80,80,0.5);"></div>
<div style="left:488px;top:275px;width:3px;height:1px;background:rgba(80,80,80,0.5);"></div>
<div style="left:488px;top:272px;width:2px;height:1px;background:rgba(80,80,80,0.5);"></div>
<div style="left:488px;top:268px;width:2px;height:1px;background:rgba(80,80,80,0.5);"></div>
<div style="left:488px;top:265px;width:2px;height:1px;background:rgba(80,80,80,0.5);"></div>
<div style="left:488px;top:261px;width:3px;height:1px;background:rgba(80,80,80,0.5);"></div>
<div style="left:488px;top:258px;width:2px;height:1px;background:rgba(80,80,80,0.5);"></div>
<div style="left:488px;top:255px;width:2px;height:1px;background:rgba(80,80,80,0.5);"></div>
<div style="left:488px;top:251px;width:2px;height:1px;background:rgba(80,80,80,0.5);"></div>
<div style="left:488px;top:248px;width:3px;height:1px;background:rgba(80,80,80,0.5);"></div>
<div style="left:488px;top:245px;width:2px;height:1px;background:rgba(80,80,80,0.5);"></div>
<div style="left:488px;top:241px;width:2px;height:1px;background:rgba(80,80,80,0.5);"></div>
<div style="left:488px;top:238px;width:2px;height:1px;background:rgba(80,80,80,0.5);"></div>
<div style="left:488px;top:234px;width:3px;height:1px;background:rgba(80,80,80,0.5);"></div>
<div style="left:488px;top:231px;width:2px;height:1px;background:rgba(80,80,80,0.5);"></div>
<div style="left:488px;top:228px;width:2px;height:1px;background:rgba(80,80,80,0.5);"></div>
<div style="left:488px;top:224px;width:2px;height:1px;background:rgba(80,80,80,0.5);"></div>
<div style="left:488px;top:221px;width:3px;height:1px;background:rgba(80,80,80,0.5);"></div>
<div style="left:488px;top:218px;width:2px;height:1px;background:rgba(80,80,80,0.5);"></div>
<div style="left:488px;top:214px;width:2px;height:1px;background:rgba(80,80,80,0.5);"></div>
<div style="left:488px;top:211px;width:2px;height:1px;background:rgba(80,80,80,0.5);"></div>
<div style="left:488px;top:207px;width:3px;height:1px;background:rgba(80,80,80,0.5);"></div>
<div style="left:488px;top:204px;width:2px;height:1px;background:rgba(80,80,80,0.5);"></div>
<div style="left:488px;top:201px;width:2px;height:1px;background:rgba(80,80,80,0.5);"></div>
<div style="left:488px;top:197px;width:2px;height:1px;background:rgba(80,80,80,0.5);"></div>
<div style="left:488px;top:194px;width:3px;height:1px;background:rgba(80,80,80,0.5);"></div>
<div style="left:488px;top:191px;width:2px;height:1px;background:rgba(80,80,80,0.5);"></div>
<div style="left:488px;top:187px;width:2px;height:1px;background:rgba(80,80,80,0.5);"></div>
<div style="left:303px;top:317px;width:1px;height:2px;background:rgba(80,80,80,0.5);"></div>
<div style="left:333px;top:317px;width:1px;height:2px;background:rgba(80,80,80,0.5);"></div>
<div style="left:362px;top:317px;width:1px;height:2px;background:rgba(80,80,80,0.5);"></div>
<div style="left:392px;top:317px;width:1px;height:2px;background:rgba(80,80,80,0.5);"></div>
<div style="left:421px;top:317px;width:1px;height:2px;background:rgba(80,80,80,0.5);"></div>
<div style="left:451px;top:317px;width:1px;height:2px;background:rgba(80,80,80,0.5);"></div>
<div style="left:480px;top:317px;width:1px;height:2px;background:rgba(80,80,80,0.5);"></div>
<span style="top:315px;font:bold 3.9px/3.9px 'Liberation Sans', Arial, sans-serif;color:#000;white-space:nowrap;left:294.00px;text-shadow:0.2px 0 0 #000;">0</span>
<span style="top:301px;font:bold 3.9px/3.9px 'Liberation Sans', Arial, sans-serif;color:#000;white-space:nowrap;left:294.00px;text-shadow:0.2px 0 0 #000;">1000</span>
<span style="top:288px;font:bold 3.9px/3.9px 'Liberation Sans', Arial, sans-serif;color:#000;white-space:nowrap;left:294.00px;text-shadow:0.2px 0 0 #000;">2000</span>
<span style="top:274px;font:bold 3.9px/3.9px 'Liberation Sans', Arial, sans-serif;color:#000;white-space:nowrap;left:294.00px;text-shadow:0.2px 0 0 #000;">3000</span>
<span style="top:261px;font:bold 3.9px/3.9px 'Liberation Sans', Arial, sans-serif;color:#000;white-space:nowrap;left:294.00px;text-shadow:0.2px 0 0 #000;">4000</span>
<span style="top:247px;font:bold 3.9px/3.9px 'Liberation Sans', Arial, sans-serif;color:#000;white-space:nowrap;left:294.00px;text-shadow:0.2px 0 0 #000;">5000</span>
<span style="top:234px;font:bold 3.9px/3.9px 'Liberation Sans', Arial, sans-serif;color:#000;white-space:nowrap;left:294.00px;text-shadow:0.2px 0 0 #000;">6000</span>
<span style="top:220px;font:bold 3.9px/3.9px 'Liberation Sans', Arial, sans-serif;color:#000;white-space:nowrap;left:294.00px;text-shadow:0.2px 0 0 #000;">7000</span>
<span style="top:207px;font:bold 3.9px/3.9px 'Liberation Sans', Arial, sans-serif;color:#000;white-space:nowrap;left:294.00px;text-shadow:0.2px 0 0 #000;">8000</span>
<span style="top:193px;font:bold 3.9px/3.9px 'Liberation Sans', Arial, sans-serif;color:#000;white-space:nowrap;left:294.00px;text-shadow:0.2px 0 0 #000;">9000</span>
<span style="top:321px;font:bold 3.9px/3.9px 'Liberation Sans', Arial, sans-serif;color:#000;white-space:nowrap;left:303.30px;transform:translateX(-50%);text-shadow:0.2px 0 0 #000;">0</span>
<span style="top:321px;font:bold 3.9px/3.9px 'Liberation Sans', Arial, sans-serif;color:#000;white-space:nowrap;left:332.83px;transform:translateX(-50%);text-shadow:0.2px 0 0 #000;">1</span>
<span style="top:321px;font:bold 3.9px/3.9px 'Liberation Sans', Arial, sans-serif;color:#000;white-space:nowrap;left:362.36px;transform:translateX(-50%);text-shadow:0.2px 0 0 #000;">2</span>
<span style="top:321px;font:bold 3.9px/3.9px 'Liberation Sans', Arial, sans-serif;color:#000;white-space:nowrap;left:391.89px;transform:translateX(-50%);text-shadow:0.2px 0 0 #000;">3</span>
<span style="top:321px;font:bold 3.9px/3.9px 'Liberation Sans', Arial, sans-serif;color:#000;white-space:nowrap;left:421.42px;transform:translateX(-50%);text-shadow:0.2px 0 0 #000;">4</span>
<span style="top:321px;font:bold 3.9px/3.9px 'Liberation Sans', Arial, sans-serif;color:#000;white-space:nowrap;left:450.95px;transform:translateX(-50%);text-shadow:0.2px 0 0 #000;">5</span>
<span style="top:321px;font:bold 3.9px/3.9px 'Liberation Sans', Arial, sans-serif;color:#000;white-space:nowrap;left:480.48px;transform:translateX(-50%);text-shadow:0.2px 0 0 #000;">6</span>
<span style="top:320px;font:bold 3.9px/3.9px 'Liberation Sans', Arial, sans-serif;color:#000;white-space:nowrap;left:501.60px;transform:translateX(-50%);text-shadow:0.2px 0 0 #000;">+Z</span>
<span style="top:176px;font:bold 3.9px/3.9px 'Liberation Sans', Arial, sans-serif;color:#000;white-space:nowrap;left:296.30px;transform:translateX(-50%);text-shadow:0.2px 0 0 #000;">+Y</span>
<span style="top:166px;font:bold 13.5px/13.5px 'Liberation Serif', 'Times New Roman', serif;color:#000;white-space:nowrap;left:305.60px;">(d)</span>
<span style="top:175px;font:bold 6.2px/6.2px 'Liberation Sans', Arial, sans-serif;color:#000;white-space:nowrap;letter-spacing:0.03px;left:361.80px;text-shadow:0.12px 0 0 #000;">Recombination (E28 cm^-3/s)</span>
<div style="left:491px;top:197px;width:49px;height:108px;background:#e7e7e7;border:1px solid #a9a9a9;border-top-color:#c4c4c4;border-left-color:#c4c4c4;box-shadow:1px 1px 0 #c8c8c8;overflow:hidden"></div>
<div style="left:493px;top:211px;width:12px;height:92px;background:linear-gradient(to bottom,#ff1000 0%,#ff2800 8%,#ff8000 17%,#ffff00 25%,#c0ff00 32%,#40ff00 42%,#00ff20 50%,#00ff90 64%,#00ffff 76%,#00a0ff 84%,#0050ff 91%,#0000ff 100%);"></div>
<div style="left:493px;top:211px;width:12px;height:2px;background:linear-gradient(to bottom,#200604 0%,#401008 50%,#c01808 100%);"></div>
<div style="left:492px;top:198px;width:48px;height:12px;overflow:hidden">
<span style="top:2px;font:bold 5.1px/5.1px 'Liberation Sans', Arial, sans-serif;color:#000;white-space:nowrap;left:0.40px;text-shadow:0.2px 0 0 #000;">Rec (E28 cm^-3/s)</span>
</div>
<span style="top:208px;font:bold 4.85px/4.85px 'Liberation Sans', Arial, sans-serif;color:#000;white-space:nowrap;left:506.90px;text-shadow:0.2px 0 0 #000;">4.61487e-007</span>
<span style="top:217px;font:bold 4.85px/4.85px 'Liberation Sans', Arial, sans-serif;color:#000;white-space:nowrap;left:506.90px;text-shadow:0.2px 0 0 #000;">4.5e-007</span>
<span style="top:225px;font:bold 4.85px/4.85px 'Liberation Sans', Arial, sans-serif;color:#000;white-space:nowrap;left:510.00px;text-shadow:0.2px 0 0 #000;">4e-007</span>
<span style="top:234px;font:bold 4.85px/4.85px 'Liberation Sans', Arial, sans-serif;color:#000;white-space:nowrap;left:506.90px;text-shadow:0.2px 0 0 #000;">3.5e-007</span>
<span style="top:242px;font:bold 4.85px/4.85px 'Liberation Sans', Arial, sans-serif;color:#000;white-space:nowrap;left:510.00px;text-shadow:0.2px 0 0 #000;">3e-007</span>
<span style="top:250px;font:bold 4.85px/4.85px 'Liberation Sans', Arial, sans-serif;color:#000;white-space:nowrap;left:506.90px;text-shadow:0.2px 0 0 #000;">2.5e-007</span>
<span style="top:258px;font:bold 4.85px/4.85px 'Liberation Sans', Arial, sans-serif;color:#000;white-space:nowrap;left:510.00px;text-shadow:0.2px 0 0 #000;">2e-007</span>
<span style="top:267px;font:bold 4.85px/4.85px 'Liberation Sans', Arial, sans-serif;color:#000;white-space:nowrap;left:506.90px;text-shadow:0.2px 0 0 #000;">1.5e-007</span>
<span style="top:275px;font:bold 4.85px/4.85px 'Liberation Sans', Arial, sans-serif;color:#000;white-space:nowrap;left:510.00px;text-shadow:0.2px 0 0 #000;">1e-007</span>
<span style="top:284px;font:bold 4.85px/4.85px 'Liberation Sans', Arial, sans-serif;color:#000;white-space:nowrap;left:510.00px;text-shadow:0.2px 0 0 #000;">5e-008</span>
<span style="top:292px;font:bold 4.85px/4.85px 'Liberation Sans', Arial, sans-serif;color:#000;white-space:nowrap;left:517.20px;transform:translateX(-50%);text-shadow:0.2px 0 0 #000;">0</span>
<span style="top:300px;font:bold 4.85px/4.85px 'Liberation Sans', Arial, sans-serif;color:#000;white-space:nowrap;left:506.90px;text-shadow:0.2px 0 0 #000;">-2.78283e-019</span>
</div></body></html>
